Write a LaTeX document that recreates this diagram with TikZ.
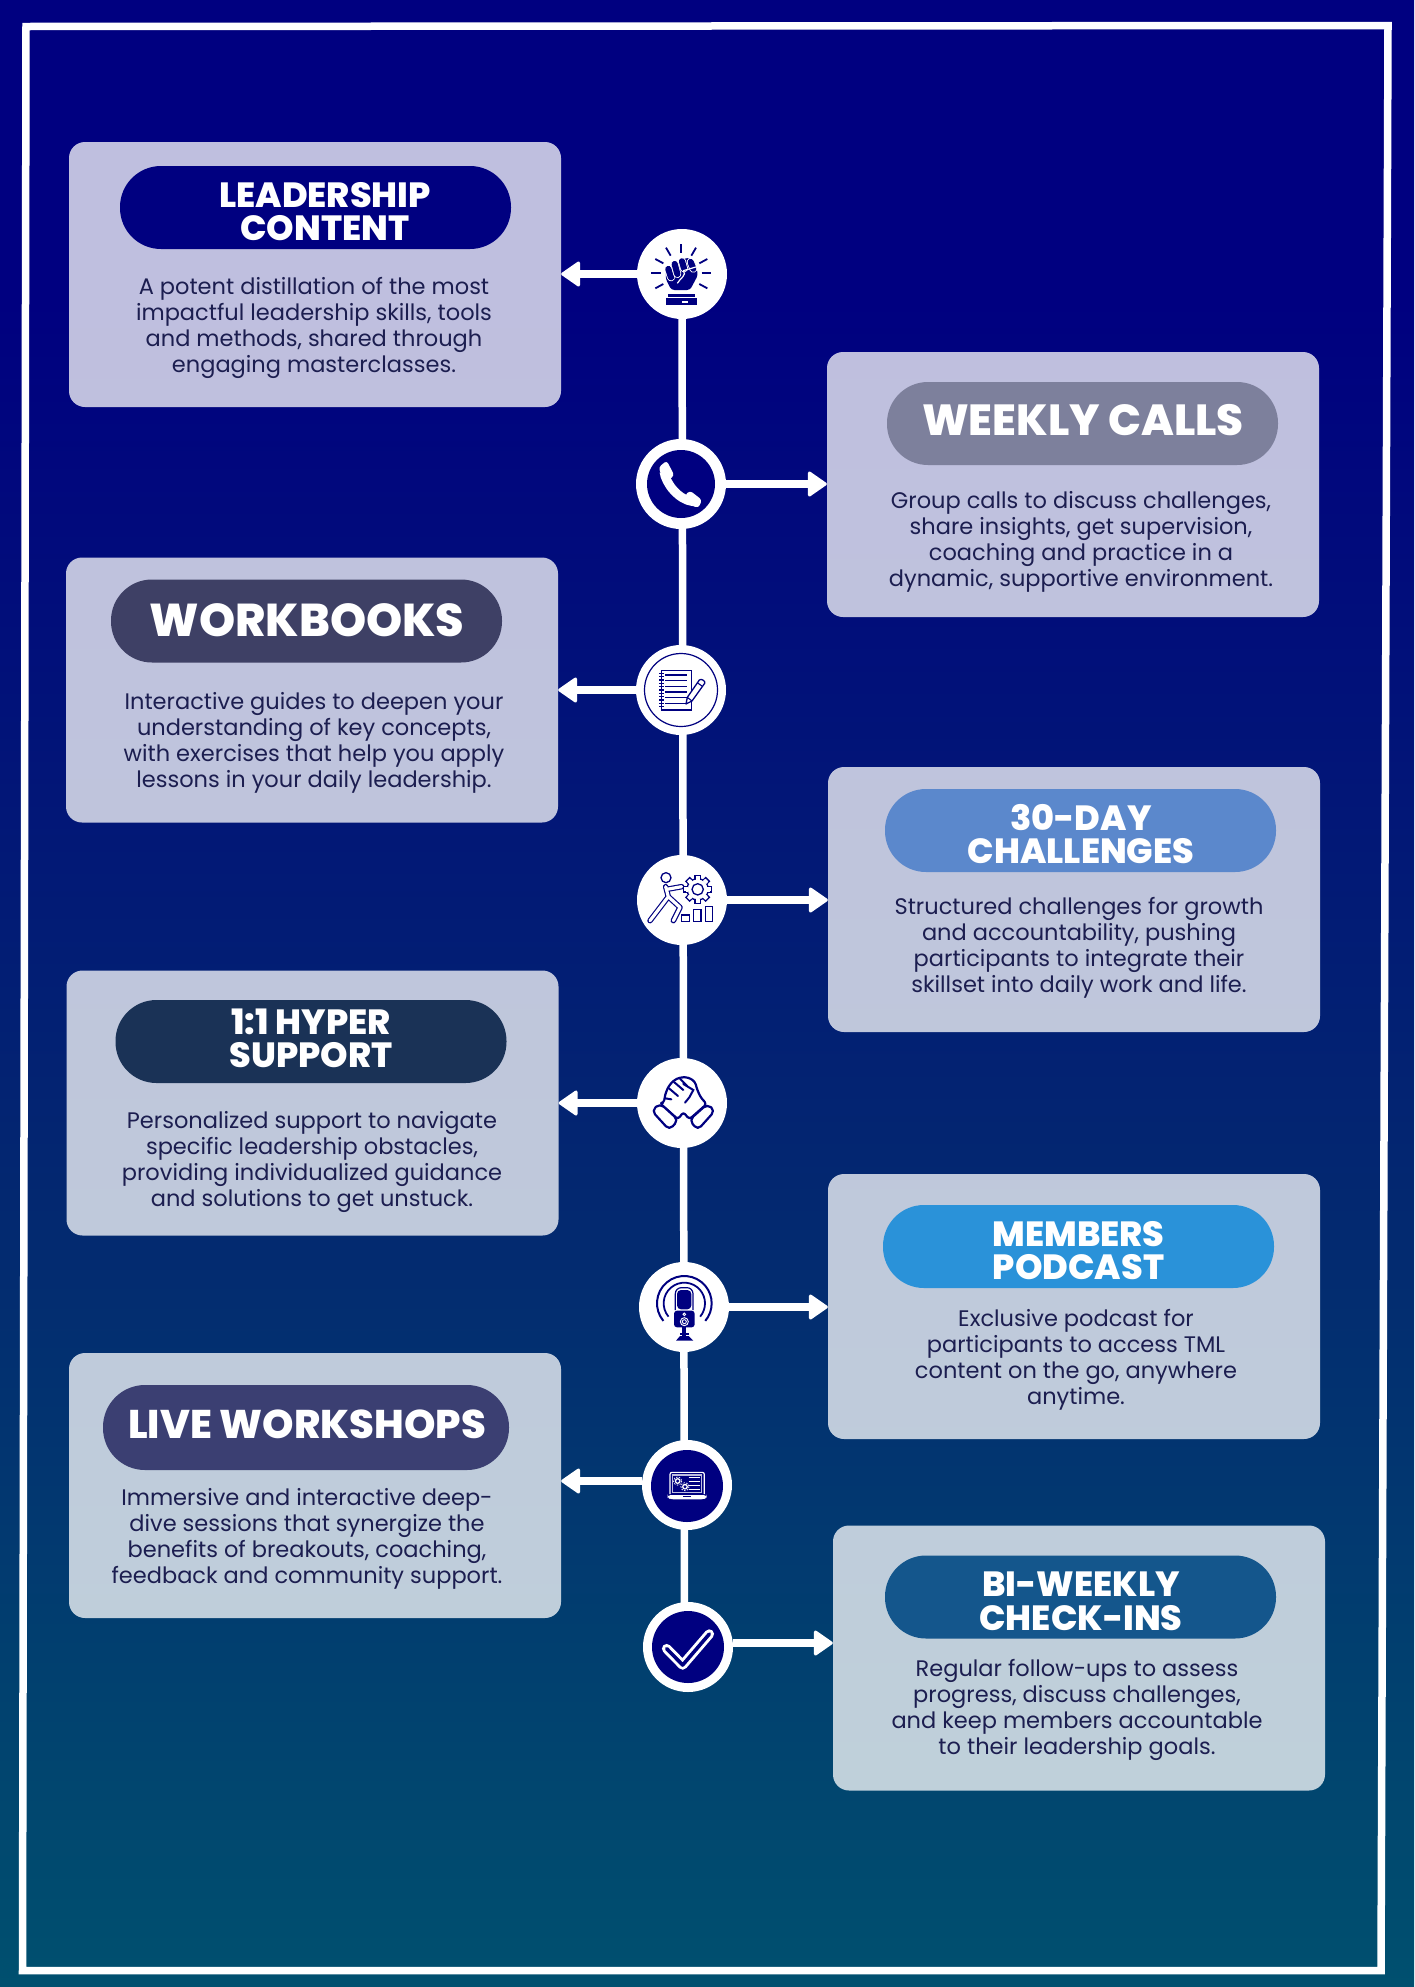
\documentclass[tikz,border=0pt]{standalone}
\usepackage{fontspec}
\setmainfont{Poppins}
\newfontfamily\headfont{Poppins ExtraBold}
\usetikzlibrary{arrows.meta}
\definecolor{navy}{RGB}{0,0,128}
\definecolor{bgmid}{RGB}{3,40,112}
\definecolor{bgbot}{RGB}{0,80,111}
\definecolor{bodyink}{RGB}{28,30,80}
\definecolor{pillA}{RGB}{0,0,128}
\definecolor{pillB}{RGB}{125,128,156}
\definecolor{pillC}{RGB}{62,64,101}
\definecolor{pillD}{RGB}{91,136,204}
\definecolor{pillE}{RGB}{26,50,86}
\definecolor{pillF}{RGB}{42,146,217}
\definecolor{pillG}{RGB}{59,63,114}
\definecolor{pillH}{RGB}{20,86,140}
\pgfdeclareverticalshading{bgshade}{100bp}{color(0bp)=(bgbot); color(25bp)=(bgbot); color(44.8bp)=(bgmid); color(67.45bp)=(navy); color(100bp)=(navy)}
\tikzset{
 card/.style={rectangle,rounded corners=16pt,fill=white,fill opacity=.75,draw=none,inner sep=0pt,minimum width=492pt,minimum height=265pt},
 pill/.style={rectangle,rounded corners=41pt,draw=none,inner sep=0pt,minimum width=391pt,minimum height=83pt},
 bodytext/.style={align=center,text=bodyink,inner sep=0pt,font=\fontsize{22.5}{26}\selectfont},
 headsm/.style={align=center,text=white,inner sep=0pt,font=\headfont\fontsize{35}{33.5}\selectfont},
 headlg/.style={align=center,text=white,inner sep=0pt,font=\headfont\fontsize{43.5}{43}\selectfont},
 hub/.style={circle,fill=white,draw=none,inner sep=0pt,minimum size=90pt},
 spine/.style={draw=white,line width=7.5pt},
 branch/.style={draw=white,line width=8pt,-{Triangle[length=20pt,width=27pt,round,line width=3pt]}},
}
\begin{document}
\begin{tikzpicture}[x=1pt,y=-1pt]
\useasboundingbox (0,0) rectangle (1414,1987);
\shade[shading=bgshade] (0,0) rectangle (1414,1987);
\draw[white,line width=7.5pt] (26,26.5) -- (1388,25.5) -- (1381,1970.5) -- (22.5,1970.5) -- cycle;

% cards
\node[card] (b1) at (315,274.5) {};
\node[card] (b2) at (1073,484.5) {};
\node[card] (b3) at (312,690) {};
\node[card] (b4) at (1074,899.5) {};
\node[card] (b5) at (312.5,1103) {};
\node[card] (b6) at (1074,1306.5) {};
\node[card] (b7) at (315,1485.5) {};
\node[card] (b8) at (1079,1658) {};

% pills
\node[pill,fill=pillA] (p1) at (315.5,207.5) {};
\node[pill,fill=pillB] (p2) at (1082.5,423.5) {};
\node[pill,fill=pillC] (p3) at (306.5,621) {};
\node[pill,fill=pillD] (p4) at (1080.5,830.5) {};
\node[pill,fill=pillE] (p5) at (311,1041.5) {};
\node[pill,fill=pillF] (p6) at (1078.5,1246.5) {};
\node[pill,fill=pillG,minimum width=406pt,minimum height=85pt,rounded corners=42pt] (p7) at (306,1427.5) {};
\node[pill,fill=pillH] (p8) at (1080.5,1597) {};

% headings
\node[headsm] (h1) at (325,211.5) {LEADERSHIP\\CONTENT};
\node[headlg] (h2) at (1083,420) {WEEKLY CALLS};
\node[headlg,font=\headfont\fontsize{46}{46}\selectfont] (h3) at (307,620) {WORKBOOKS};
\node[headsm] (h4) at (1081,834) {30-DAY\\CHALLENGES};
\node[headsm] (h5) at (311,1038.5) {1:1 HYPER\\SUPPORT};
\node[headsm] (h6) at (1078.5,1250.5) {MEMBERS\\PODCAST};
\node[headlg,font=\headfont\fontsize{40}{40}\selectfont] (h7) at (307,1424) {LIVE WORKSHOPS};
\node[headsm] (h8) at (1081,1601.5) {BI-WEEKLY\\CHECK-INS};

% body text
\node[bodytext] (t1) at (314,327.5) {A potent distillation of the most\\impactful leadership skills, tools\\and methods, shared through\\engaging masterclasses.};
\node[bodytext] (t2) at (1081,541.5) {Group calls to discuss challenges,\\share insights, get supervision,\\coaching and practice in a\\dynamic, supportive environment.};
\node[bodytext] (t3) at (314,742.5) {Interactive guides to deepen your\\understanding of key concepts,\\with exercises that help you apply\\lessons in your daily leadership.};
\node[bodytext] (t4) at (1079,948) {Structured challenges for growth\\and accountability, pushing\\participants to integrate their\\skillset into daily work and life.};
\node[bodytext] (t5) at (312,1162) {Personalized support to navigate\\specific leadership obstacles,\\providing individualized guidance\\and solutions to get unstuck.};
\node[bodytext] (t6) at (1076,1359.5) {Exclusive podcast for\\participants to access TML\\content on the go, anywhere\\anytime.};
\node[bodytext] (t7) at (307,1539) {Immersive and interactive deep-\\dive sessions that synergize the\\benefits of breakouts, coaching,\\feedback and community support.};
\node[bodytext] (t8) at (1077,1710) {Regular follow-ups to assess\\progress, discuss challenges,\\and keep members accountable\\to their leadership goals.};

% spine, running behind the hubs
\coordinate (s1) at (682,274);
\coordinate (s8) at (684.5,1647);
\draw[spine] (s1) -- (s8);

% hubs
\node[hub] (c1) at (682,274) {};
\node[hub] (c2) at (681,484) {};
\node[hub] (c3) at (681,690) {};
\node[hub] (c4) at (682,900) {};
\node[hub] (c5) at (682,1103) {};
\node[hub] (c6) at (684,1307) {};
\node[hub] (c7) at (687,1485) {};
\node[hub] (c8) at (688,1647) {};

% branches
\draw[branch] (c1.west) -- (c1.west -| b1.east);
\draw[branch] (c2.east) -- (c2.east -| b2.west);
\draw[branch] (c3.west) -- (c3.west -| b3.east);
\draw[branch] (c4.east) -- (c4.east -| b4.west);
\draw[branch] (c5.west) -- (c5.west -| b5.east);
\draw[branch] (c6.east) -- (c6.east -| b6.west);
\draw[branch] ([yshift=4pt]c7.west) -- ([yshift=4pt]c7.west -| b7.east);
\draw[branch] ([yshift=4pt]c8.east) -- ([yshift=4pt]c8.east -| b8.west);

% icon 1: fist
\begin{scope}[shift={(600,200)},scale=1/3]
 \foreach \a/\b/\c/\d in {243/133/243/160,198/143/212/167,288/143/274/167,166/177/190/190,322/177/298/190,153/220/182/220,305/220/333/220,166/265/190/252,322/265/298/252}
   \draw[navy,line width=1.8pt] (\a,\b) -- (\c,\d);
 \fill[navy,rounded corners=3pt] (214,270) -- (197,236) -- (198,205) -- (262,172) -- (285,185) -- (294,225) -- (270,270) -- cycle;
 \foreach \a/\b/\c/\d in {205/207/213/232,224/192/232/222,246/184/252/205,272/186/280/206}{
   \draw[white,line width=8pt,line cap=round] (\a,\b) -- (\c,\d);
   \draw[navy,line width=6.2pt,line cap=round] (\a,\b) -- (\c,\d);
 }
 \draw[white,line width=1.2pt] (250,212) -- (291,200) (250,212) .. controls (262,225) and (240,235) .. (232,250);
 \fill[navy] (204,283) rectangle (286,290);
 \fill[navy] (199,294) rectangle (291,316);
 \fill[white] (246,302) rectangle (264,308);
\end{scope}

% icon 2: phone
\fill[navy] (c2) circle (34);
\begin{scope}[shift={(600,200)},scale=1/3]
 \draw[white,line width=9pt] (192,815) .. controls (197,850) and (235,900) .. (280,905);
 \fill[white,rounded corners=3pt] (176,802) -- (200,782) -- (223,826) -- (204,842) -- (190,842) -- cycle;
 \fill[white,rounded corners=3pt] (255,885) -- (270,872) -- (306,900) -- (295,924) -- (262,912) -- cycle;
\end{scope}

% icon 3: notebook
\draw[navy,line width=1.2pt] (c3) circle (36.5);
\begin{scope}[shift={(600,620)},scale=1/3]
 \draw[navy,line width=1.2pt] (185,152) rectangle (275,270);
 \foreach \y in {165,182,199,216,233,250}
   \draw[navy,line width=1.2pt] (196,\y) -- (262,\y);
 \foreach \y in {160,170,...,265}
   \draw[navy,line width=1.2pt] (177,\y) -- (191,\y);
 \draw[navy,line width=1.3pt,fill=white,line join=round] (258,252) -- (262,232) -- (298,180) .. controls (303,174) and (318,184) .. (314,190) -- (276,243) -- cycle;
 \draw[navy,line width=1.1pt] (262,232) -- (276,243) (292,188) -- (307,199);
\end{scope}

% icon 4: person with gear and bars
\begin{scope}[shift={(600,620)},scale=1/3]
 \draw[navy,line width=1.3pt] (198,773) circle (15);
 \draw[navy,line width=5.5pt,line cap=round,line join=round] (197,800) -- (205,830) -- (150,902) (200,808) -- (245,800) (205,830) -- (240,862) -- (220,902);
 \draw[white,line width=3.2pt,line cap=round,line join=round] (197,800) -- (205,830) -- (150,902) (200,808) -- (245,800) (205,830) -- (240,862) -- (220,902);
 \foreach \a in {0,45,...,315}
   \draw[navy,line width=1.3pt,fill=white,rotate around={\a:(293,808)}] (285,766) rectangle (301,785);
 \draw[navy,line width=1.3pt,fill=white] (293,808) circle (32);
 \foreach \a in {0,45,...,315}
   \fill[white,rotate around={\a:(293,808)}] (286.5,772) rectangle (299.5,780);
 \draw[navy,line width=1.3pt] (293,808) circle (17);
 \draw[navy,line width=1.3pt] (245,885) rectangle (268,905) (281,868) rectangle (303,905) (316,860) rectangle (338,905);
\end{scope}

% icon 5: handshake
\begin{scope}[shift={(600,1040)},scale=1/3]
 \draw[navy,fill=white,line join=round,rounded corners=3pt,line width=2.2pt] (192,188) -- (195,165) -- (205,140) -- (220,122) -- (240,112) -- (265,112) -- (285,125) -- (292,150) -- (302,172) -- (320,192) -- (268,238) -- (250,216) -- (234,238) -- (180,190) -- cycle;
 \draw[navy,fill=white,line join=round,rounded corners=5pt,line width=2.2pt] (155,212) -- (180,190) -- (235,240) -- (208,270) -- cycle;
 \draw[navy,fill=white,line join=round,rounded corners=5pt,line width=2.2pt] (345,212) -- (322,192) -- (268,240) -- (293,270) -- cycle;
 \draw[navy,line width=2pt,line cap=round] (207,145) -- (234,168) (222,126) -- (250,150) (240,116) -- (262,138) (250,132) -- (280,150) -- (268,172) -- (255,188) (196,175) -- (214,178);
\end{scope}

% icon 6: microphone
\begin{scope}[shift={(600,1040)},scale=1/3]
 \draw[navy,line width=2pt] (253,790) ++(140:82) arc[start angle=140,end angle=400,radius=82];
 \draw[navy,line width=1.8pt] (253,790) ++(140:62) arc[start angle=140,end angle=400,radius=62];
 \draw[navy,line width=1.2pt,fill=white,rounded corners=6pt] (226,810) -- (226,743) -- (279,743) -- (279,810);
 \fill[navy,rounded corners=4pt] (231,808) -- (231,750) -- (274,750) -- (274,808) -- cycle;
 \fill[navy,rounded corners=3pt] (222,812) -- (284,812) -- (284,862) -- (222,862) -- cycle;
 \draw[white,line width=.9pt] (253,845) circle (12) (253,845) circle (6) (253,823) circle (4);
 \fill[navy] (247,862) rectangle (259,888);
 \fill[navy] (240,880) rectangle (266,884);
 \fill[navy] (240,888) -- (266,888) -- (280,902) -- (228,902) -- cycle;
\end{scope}

% icon 7: laptop
\fill[navy] (687,1486) circle (36);
\begin{scope}[shift={(600,1420)},scale=1/3]
 \draw[white,line width=1.2pt,rounded corners=2pt] (210,222) -- (210,157) -- (313,157) -- (313,222);
 \fill[white!75!navy] (216,163) rectangle (307,219);
 \fill[navy] (220,167) rectangle (303,215);
 \foreach \y in {172,184,197,209} \draw[white,line width=1.1pt] (266,\y) -- (300,\y);
 \foreach \gx/\gy in {233/183,255/200}{
   \draw[white,line width=1pt,dash pattern=on 1.4pt off 1.4pt] (\gx,\gy) circle (12);
   \draw[navy,fill=white,line width=.4pt] (\gx,\gy) circle (10);
   \fill[navy] (\gx,\gy) circle (5);
 }
 \fill[white,rounded corners=3pt] (203,225) -- (320,225) -- (320,232) -- (312,238) -- (211,238) -- (203,232) -- cycle;
 \fill[navy] (248,228) rectangle (274,231);
\end{scope}

% icon 8: check
\fill[navy] (c8) circle (36);
\begin{scope}[shift={(600,1420)},scale=1/3]
 \draw[white,line width=9.5pt,line cap=round,line join=round] (200,686) -- (248,735) -- (328,642);
 \draw[navy,line width=3.6pt,line cap=round,line join=round] (200,686) -- (248,735) -- (328,642);
\end{scope}
\end{tikzpicture}
\end{document}
